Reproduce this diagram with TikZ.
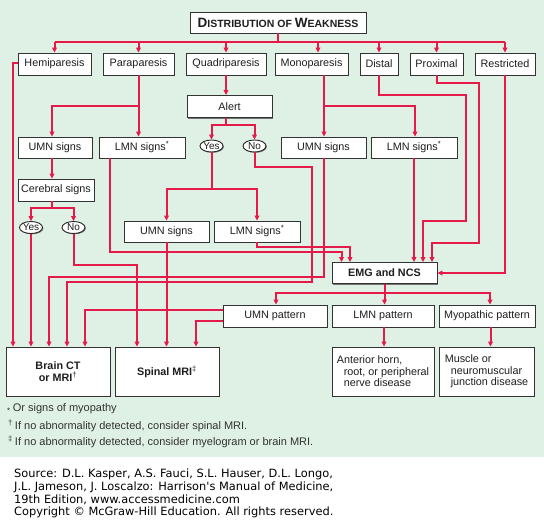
\documentclass[tikz,border=0pt]{standalone}
\usepackage{fontspec}
\setmainfont{Liberation Sans}
\newfontfamily\srcfont{DejaVu Sans}
\usetikzlibrary{arrows.meta,shapes.geometric,shadows}
\definecolor{bg}{RGB}{223,240,228}
\definecolor{wred}{RGB}{230,25,75}
\definecolor{txt}{RGB}{30,30,30}
\tikzset{
  box/.style={draw=black!80, fill=white, line width=0.9pt, inner sep=0pt, text=txt,
    font=\fontsize{10.8}{12}\selectfont,
    drop shadow={shadow xshift=1.4pt, shadow yshift=-1.4pt, fill=black!55, opacity=1}},
  oval/.style={ellipse, draw=black!85, fill=white, line width=0.9pt, inner sep=0pt, text=txt,
    minimum width=23pt, minimum height=12pt, font=\fontsize{10}{10}\selectfont,
    drop shadow={shadow xshift=0.8pt, shadow yshift=-0.8pt, fill=black!55, opacity=1}},
  conn/.style={draw=wred, line width=2pt},
  arr/.style={conn, -{Triangle[length=5pt,width=4.8pt]}},
  foot/.style={anchor=west, inner sep=0pt, text=black!80, font=\fontsize{11}{12}\selectfont},
}
\begin{document}
\begin{tikzpicture}[x=1pt,y=-1pt]
\useasboundingbox (0,0) rectangle (544,520);
\fill[white] (0,0) rectangle (544,520);
\fill[bg] (0,0) rectangle (544,457);

% nodes
\node[box, minimum width=176pt, minimum height=21pt] (title) at (278,22.5)
  {\bfseries\fontsize{13.5}{14}\selectfont D\fontsize{10.5}{12}\selectfont ISTRIBUTION OF \fontsize{13.5}{14}\selectfont W\fontsize{10.5}{12}\selectfont EAKNESS};

\node[box, minimum width=73pt, minimum height=22pt] (hemi) at (54.5,64) {Hemiparesis};
\node[box, minimum width=71pt, minimum height=22pt] (para) at (138.5,64) {Paraparesis};
\node[box, minimum width=80pt, minimum height=22pt] (quad) at (226,64) {Quadriparesis};
\node[box, minimum width=73pt, minimum height=22pt] (mono) at (311.5,64) {Monoparesis};
\node[box, minimum width=38pt, minimum height=22pt] (distal) at (379,64) {Distal};
\node[box, minimum width=53pt, minimum height=22pt] (prox) at (436.5,64) {Proximal};
\node[box, minimum width=60pt, minimum height=22pt] (restr) at (505,64) {Restricted};

\node[box, minimum width=85pt, minimum height=22pt] (alert) at (229.5,106.5) {Alert};

\node[box, minimum width=74pt, minimum height=21pt] (umnL) at (55,147.5) {UMN signs};
\node[box, minimum width=86pt, minimum height=21pt] (lmnL) at (142,147.5) {LMN signs\textsuperscript{*}};
\node[box, minimum width=85pt, minimum height=21pt] (umnR) at (323.5,147.5) {UMN signs};
\node[box, minimum width=86pt, minimum height=21pt] (lmnR) at (414,147.5) {LMN signs\textsuperscript{*}};

\node[oval] (yesA) at (211.5,146) {Yes};
\node[oval] (noA) at (254.5,146) {No};

\node[box, minimum width=76pt, minimum height=22pt] (cereb) at (56,190) {Cerebral signs};
\node[oval] (yesC) at (31,227.5) {Yes};
\node[oval] (noC) at (73.5,227.5) {No};

\node[box, minimum width=85pt, minimum height=21pt] (umnM) at (166.5,231.5) {UMN signs};
\node[box, minimum width=86pt, minimum height=21pt] (lmnM) at (257,231.5) {LMN signs\textsuperscript{*}};

\node[box, minimum width=105pt, minimum height=21pt, font=\fontsize{10.8}{12}\selectfont\bfseries] (emg) at (384.5,273) {EMG and NCS};

\node[box, minimum width=104pt, minimum height=22pt] (umnP) at (275,316) {UMN pattern};
\node[box, minimum width=102pt, minimum height=22pt] (lmnP) at (383,316) {LMN pattern};
\node[box, minimum width=96pt, minimum height=22pt] (myoP) at (487,316) {Myopathic pattern};

\node[box, minimum width=104pt, minimum height=49pt, align=center, font=\fontsize{10.8}{12.5}\selectfont\bfseries] (brain) at (58,371.5)
  {Brain CT\\or MRI\textsuperscript{\mdseries †}};
\node[box, minimum width=104pt, minimum height=49pt, font=\fontsize{10.8}{12.5}\selectfont\bfseries] (spinal) at (167,371.5)
  {Spinal MRI\textsuperscript{\mdseries ‡}};
\node[box, minimum width=102pt, minimum height=49pt, align=left, font=\fontsize{10.8}{11.6}\selectfont] (ant) at (383,371.5)
  {Anterior horn,\\\hspace*{7pt}root, or peripheral\\\hspace*{7pt}nerve disease};
\node[box, minimum width=95pt, minimum height=49pt, align=left, font=\fontsize{10.8}{11.6}\selectfont] (muscle) at (486.5,371.5)
  {Muscle or\\\hspace*{6pt}neuromuscular\\\hspace*{6pt}junction disease};

% footnotes
\node[foot] (f1) at (7,409) {\raisebox{-1.5pt}{\fontsize{8}{8}\selectfont *}\hspace{2.5pt}Or signs of myopathy};
\node[foot] (f2) at (8,426) {\textsuperscript{†}\hspace{2pt}If no abnormality detected, consider spinal MRI.};
\node[foot] (f3) at (8,442) {\textsuperscript{‡}\hspace{2pt}If no abnormality detected, consider myelogram or brain MRI.};

% source
\node[anchor=north west, inner sep=0pt, align=left, font=\srcfont\fontsize{11.4}{12.7}\selectfont] (src) at (14,469)
  {Source: D.L. Kasper, A.S. Fauci, S.L. Hauser, D.L. Longo,\\
   J.L. Jameson, J. Loscalzo: Harrison's Manual of Medicine,\\
   19th Edition, www.accessmedicine.com\\
   Copyright © McGraw-Hill Education. All rights reserved.};

% coordinates
\coordinate (busL) at (hemi.north |- 0,42);
\coordinate (busR) at (restr.north |- 0,42);
\coordinate (monoIn) at ([xshift=6.5pt]mono.north);
\coordinate (monoOut) at ([xshift=12.5pt]mono.south);
\coordinate (cOut) at ([xshift=-4pt]cereb.south);
\coordinate (lOut) at ([xshift=-32pt]lmnL.south);
\coordinate (uIn) at ([xshift=-3pt]umnL.north);
\coordinate (uOut) at ([xshift=-3pt]umnL.south);

% top bus
\draw[conn] (title.south) -- (title.south |- busL);
\draw[conn] (busL) -- (busR);
\draw[arr] (busL) -- (hemi.north);
\draw[arr] (busL -| para.north) -- (para.north);
\draw[arr] (busL -| quad.north) -- (quad.north);
\draw[arr] (busL -| monoIn) -- (monoIn);
\draw[arr] (busL -| distal.north) -- (distal.north);
\draw[arr] (busL -| prox.north) -- (prox.north);
\draw[arr] (busR) -- (restr.north);

% hemiparesis
\draw[arr] ([yshift=1pt]hemi.west) -| ([xshift=-45pt]brain.north);

% paraparesis
\draw[conn] (para.south) -- ++(0,31) coordinate (pb);
\draw[arr] (pb) -| (uIn);
\draw[arr] (pb) -- (pb |- lmnL.north);

% quadriparesis
\draw[arr] (quad.south) -- (quad.south |- alert.north);
\draw[conn] (quad.south |- alert.south) -- ++(0,7.5) coordinate (ab);
\draw[arr] (ab) -| (yesA.north);
\draw[arr] (ab) -| (noA.north);

% monoparesis
\draw[conn] (monoOut) -- ++(0,31) coordinate (mb);
\draw[arr] (mb) -- (mb |- umnR.north);
\draw[arr] (mb) -| ([xshift=1pt]lmnR.north);

% distal, proximal, restricted
\draw[arr] (distal.south) -- ++(0,20) -| ++(87,126) -| ([xshift=38.5pt]emg.north);
\draw[arr] (prox.south) -- ++(0,8) -| ++(42.5,160) -| ([xshift=47.5pt]emg.north);
\draw[arr] (restr.south) |- (emg.east);

% left column
\draw[arr] (uOut) -- (uOut |- cereb.north);
\draw[arr] (lOut) -- ++(0,94) -| ([xshift=-43pt]emg.north);
\draw[conn] (cOut) -- ++(0,7) coordinate (cb);
\draw[arr] (cb) -| (yesC.north);
\draw[arr] (cb) -| (noC.north);
\draw[arr] (yesC.south) -- (yesC.south |- brain.north);
\draw[arr] (noC.south) -- ++(0,31) -| ([xshift=-30pt]spinal.north);

% alert yes / no
\draw[conn] (yesA.south) -- ++(0,37) coordinate (yb);
\draw[arr] (yb) -| (umnM.north);
\draw[arr] (yb) -| (lmnM.north);
\draw[arr] (noA.south) -- ++(0,15) -| ++(57.5,115) -| ([xshift=9pt]brain.north);

% signs to tests
\draw[arr] (umnR.south) -- ++(0,119) -| ([xshift=-9pt]brain.north);
\draw[arr] (lmnR.south) -- (lmnR.south |- emg.north);
\draw[arr] (umnM.south) -- (umnM.south |- spinal.north);
\draw[arr] (lmnM.south) -- ++(0,5) -| ([xshift=-34.5pt]emg.north);

% EMG
\draw[conn] (emg.south) -- ++(0,9.5) coordinate (eb);
\draw[arr] (eb) -| ([xshift=1pt]umnP.north);
\draw[arr] (eb) -- (eb |- lmnP.north);
\draw[arr] (eb) -| ([xshift=3pt]myoP.north);

% patterns
\draw[arr] ([yshift=6pt]umnP.west) -| ([xshift=27pt]brain.north);
\draw[arr] ([yshift=-5pt]umnP.west) -| ([xshift=29pt]spinal.north);
\draw[arr] ([xshift=1pt]lmnP.south) -- ([xshift=1pt]lmnP.south |- ant.north);
\draw[arr] ([xshift=3.5pt]myoP.south) -- ([xshift=3.5pt]myoP.south |- muscle.north);
\end{tikzpicture}
\end{document}
